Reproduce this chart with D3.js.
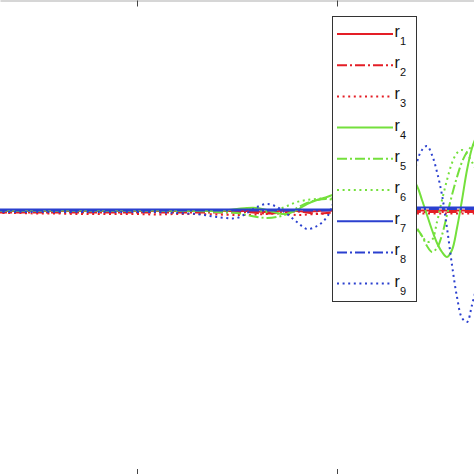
<!DOCTYPE html>
<html><head><meta charset="utf-8">
<script src="https://cdn.jsdelivr.net/npm/d3@7"></script>
<style>html,body{margin:0;padding:0;background:#fff;}svg{display:block;}</style>
</head><body>
<div id="chart"></div>
<script>
// ---- data ----
const xs = [0.3,0.4,0.5,0.6,0.7,0.8,0.9,1.0,1.1,1.2,1.3,1.4,1.5,
  1.55,1.6,1.65,1.7,1.75,1.8,1.85,1.9,1.95,
  2.0,2.05,2.1,2.15,2.2,2.25,2.3,2.35,
  2.4,2.425,2.45,2.475,2.5,2.525,2.55,2.575,2.6,2.625,2.65,2.675,2.7];
const xTicks = [1, 2];
const seriesNames = ["r1","r2","r3","r4","r5","r6","r7","r8","r9"];
const r1 = [-0.01,-0.01,-0.01,-0.01,-0.01,-0.01,-0.01,-0.01,-0.01,-0.01,-0.01,-0.01,-0.01,
  -0.01,-0.015,-0.02,-0.01,-0.005,-0.01,-0.015,-0.01,-0.005,
  -0.01,-0.01,-0.01,-0.01,-0.01,-0.01,-0.01,-0.01,
  -0.005,-0.005,-0.005,-0.005,-0.005,-0.005,-0.005,-0.005,-0.005,-0.005,-0.005,-0.005,-0.005];
const r2 = [-0.025,-0.025,-0.025,-0.025,-0.025,-0.025,-0.025,-0.025,-0.025,-0.025,-0.025,-0.025,-0.025,
  -0.02,-0.03,-0.035,-0.03,-0.02,-0.015,-0.025,-0.035,-0.03,
  -0.025,-0.025,-0.025,-0.025,-0.025,-0.025,-0.025,-0.025,
  -0.02,-0.02,-0.02,-0.02,-0.02,-0.02,-0.02,-0.02,-0.02,-0.02,-0.02,-0.02,-0.02];
const r3 = [-0.03,-0.03,-0.035,-0.035,-0.04,-0.04,-0.04,-0.04,-0.045,-0.04,-0.04,-0.045,-0.05,
  -0.05,-0.045,-0.04,-0.035,-0.04,-0.05,-0.045,-0.04,-0.035,
  -0.035,-0.035,-0.035,-0.035,-0.035,-0.035,-0.035,-0.035,
  -0.035,-0.035,-0.035,-0.035,-0.035,-0.035,-0.035,-0.035,-0.035,-0.035,-0.035,-0.035,-0.035];
const r4 = [-0.005,-0.005,-0.005,-0.005,-0.005,-0.005,-0.005,-0.005,-0.005,-0.005,-0.005,-0.01,0.01,
  0.02,0.02,0.0,-0.03,-0.04,0.0,0.06,0.10,0.13,
  0.16,0.11,-0.03,-0.18,-0.20,-0.02,0.24,0.38,
  0.24,0.10,-0.05,-0.20,-0.33,-0.42,-0.47,-0.40,-0.18,0.10,0.40,0.62,0.75];
const r5 = [-0.01,-0.01,-0.01,-0.01,-0.01,-0.01,-0.01,-0.01,-0.01,-0.01,-0.01,-0.02,-0.03,
  -0.05,-0.07,-0.08,-0.07,-0.04,0.02,0.07,0.10,0.11,
  0.09,0.02,-0.08,-0.12,-0.05,0.10,0.18,0.05,
  -0.18,-0.26,-0.36,-0.42,-0.38,-0.25,-0.05,0.15,0.33,0.48,0.58,0.64,0.67];
const r6 = [-0.01,-0.01,-0.01,-0.01,-0.01,-0.01,-0.01,-0.01,-0.01,-0.01,-0.01,-0.01,0.0,
  0.01,0.0,-0.02,0.0,0.04,0.08,0.10,0.11,0.12,
  0.10,0.04,-0.06,-0.10,-0.03,0.12,0.18,0.04,
  -0.19,-0.26,-0.32,-0.30,-0.12,0.10,0.30,0.47,0.57,0.60,0.56,0.48,0.38];
const r7 = [0.005,0.005,0.005,0.005,0.005,0.005,0.005,0.005,0.005,0.005,0.005,0.005,0.005,
  0.005,0.005,0.005,0.005,0.005,0.005,0.005,0.005,0.005,
  0.01,0.01,0.01,0.01,0.01,0.01,0.01,0.01,
  0.025,0.025,0.025,0.025,0.025,0.025,0.025,0.025,0.025,0.025,0.025,0.025,0.025];
const r8 = [-0.005,-0.005,-0.005,-0.005,-0.005,-0.005,-0.005,-0.005,-0.005,-0.005,-0.005,-0.005,-0.005,
  -0.005,-0.005,-0.005,-0.005,-0.005,-0.005,-0.005,-0.005,-0.005,
  0.0,0.0,0.0,0.0,0.0,0.0,0.0,0.0,
  0.01,0.01,0.01,0.01,0.01,0.01,0.01,0.01,0.01,0.01,0.01,0.01,0.01];
const r9 = [-0.02,-0.02,-0.02,-0.02,-0.02,-0.02,-0.02,-0.02,-0.02,-0.03,-0.04,-0.07,-0.08,
  -0.03,0.03,0.06,0.03,-0.04,-0.12,-0.19,-0.16,-0.07,
  0.15,0.28,0.27,0.10,-0.18,-0.40,-0.38,-0.05,
  0.48,0.60,0.64,0.55,0.38,0.15,-0.18,-0.55,-0.87,-1.08,-1.12,-0.95,-0.75];
const seriesValues = [r1,r2,r3,r4,r5,r6,r7,r8,r9];

// ---- styles ----
const RED = "#e41e26", GREEN = "#74e03c", BLUE = "#2b40cf";
const colors = [RED,RED,RED,GREEN,GREEN,GREEN,BLUE,BLUE,BLUE];
const dashes = [null,"10,3,2,3","2,3.6",null,"10,3,2,3","2,3.6",null,"10,3,2,3","2,3.6"];

const W = 474, H = 474;
const svg = d3.select("#chart").append("svg").attr("width", W).attr("height", H);

const x = d3.scaleLinear().domain([0.315, 2.685]).range([0, W]);
const y = d3.scaleLinear().domain([-2.68, 2.1]).range([478, 0]);

svg.append("defs").append("clipPath").attr("id","clip")
  .append("rect").attr("x",0).attr("y",0).attr("width",W).attr("height",H);

const line = d3.line().x((d,i)=>x(xs[i])).y(d=>y(d)).curve(d3.curveCatmullRom.alpha(0.5));

const plot = svg.append("g").attr("clip-path","url(#clip)");
// draw in reverse so red lines end on top like MATLAB order? draw in order
seriesValues.forEach((vals, i) => {
  plot.append("path").datum(vals)
    .attr("d", line)
    .attr("fill","none")
    .attr("stroke", colors[i])
    .attr("stroke-width", 2)
    .attr("stroke-dasharray", dashes[i]);
});

// axes
const topAxis = d3.axisTop(x).tickValues(xTicks).tickFormat("").tickSizeInner(-6).tickSizeOuter(0);
const gt = svg.append("g").attr("transform","translate(0,0.5)").call(topAxis);
gt.select(".domain").attr("stroke","#d6d6d6").attr("stroke-width",2);
gt.selectAll(".tick line").attr("stroke","#444");

const botAxis = d3.axisBottom(x).tickValues(xTicks).tickFormat("").tickSizeInner(-9).tickSizeOuter(0);
const gb = svg.append("g").attr("transform","translate(0,478)").call(botAxis);
gb.selectAll(".tick line").attr("stroke","#444");

// legend
const lg = svg.append("g");
lg.append("rect").attr("x",332.5).attr("y",16.5).attr("width",84).attr("height",285)
  .attr("fill","#fff").attr("stroke","#333").attr("stroke-width",1);
seriesNames.forEach((nm, i) => {
  const yy = 34 + i*31.2;
  lg.append("line").attr("x1",337).attr("x2",393).attr("y1",yy).attr("y2",yy)
    .attr("stroke",colors[i]).attr("stroke-width",2).attr("stroke-dasharray",dashes[i]);
  lg.append("text").attr("x",394.5).attr("y",yy+3)
    .attr("font-family","Liberation Sans, Arial, sans-serif").attr("font-size",16).attr("fill","#111")
    .text(nm.charAt(0));
  lg.append("text").attr("x",400).attr("y",yy+11)
    .attr("font-family","Liberation Sans, Arial, sans-serif").attr("font-size",11).attr("fill","#111")
    .text(nm.slice(1));
});
</script>
</body></html>
